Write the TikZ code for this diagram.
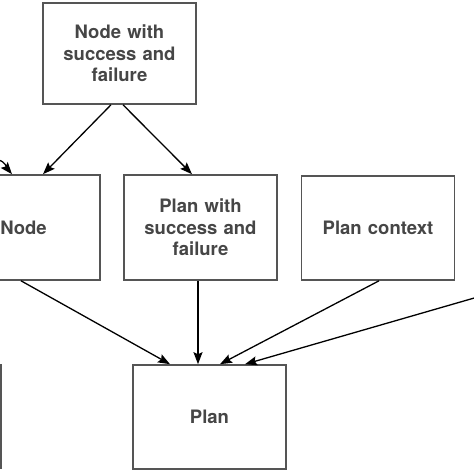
\documentclass[tikz,border=0pt]{standalone}
\usepackage{fontspec}
\setmainfont{TeX Gyre Heros}
\usetikzlibrary{arrows.meta}
\definecolor{boxgray}{HTML}{555555}
\definecolor{txtgray}{HTML}{464646}
\tikzset{
  box/.style={draw=boxgray, line width=1.6pt, fill=white, minimum width=153pt, inner sep=0pt,
    text width=150pt, align=center, text=txtgray,
    font=\fontsize{18.5}{21.5}\selectfont\bfseries},
  arr/.style={draw=black, line width=1.3pt, -{Stealth[length=12pt,width=9pt,inset=2pt]}}
}
\begin{document}
\begin{tikzpicture}[x=1pt,y=1pt]
\useasboundingbox (0,0) rectangle (474,474);
\clip (0,0) rectangle (474,474);
\fill[white] (0,0) rectangle (474,474);
\node[box, minimum height=101pt] (top) at (119.5,420.5) {Node with\\success and\\failure};
\node[box, minimum height=105pt] (node) at (23.5,246.5) {Node};
\node[box, minimum height=105pt] (pws) at (200.5,246.5) {Plan with\\success and\\failure};
\node[box, minimum height=104pt] (ctx) at (378,246) {Plan context};
\node[box, minimum height=104pt] (plan) at (209.5,57) {Plan};
\node[box, minimum height=103pt] (lb) at (-75.5,57.5) {};
\coordinate (rin) at (476,176.5);
\coordinate (lin) at (-2,314);
\draw[arr] ([xshift=-8.5pt]top.south) -- ([xshift=19.5pt]node.north);
\draw[arr] ([xshift=3.5pt]top.south) -- ([xshift=-8.5pt]pws.north);
\draw[arr] (lin) to[out=-10,in=130] ([xshift=-11.5pt]node.north);
\draw[arr] ([xshift=-2.5pt]node.south) -- ([xshift=-39.5pt]plan.north);
\draw[arr] ([xshift=-11.5pt]pws.south -| plan.north) ++(0,0) -- ([xshift=-11.5pt]plan.north);
\draw[arr] ([xshift=1pt]ctx.south) -- ([xshift=10.5pt]plan.north);
\draw[arr] (rin) -- ([xshift=35.5pt]plan.north);
\end{tikzpicture}
\end{document}
